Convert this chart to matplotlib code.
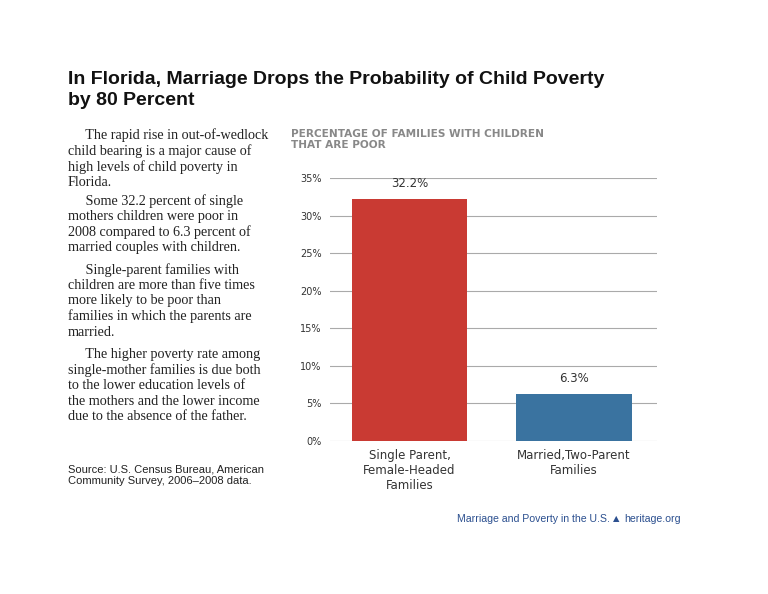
import matplotlib.pyplot as plt

categories = ["Single Parent,\nFemale-Headed\nFamilies", "Married,Two-Parent\nFamilies"]
values = [32.2, 6.3]
value_labels = ["32.2%", "6.3%"]
colors = ["#c93a33", "#3a73a0"]
yticks = [0, 5, 10, 15, 20, 25, 30, 35]

fig = plt.figure(figsize=(7.68, 5.94), dpi=100)

fig.text(68 / 768, 1 - 90 / 594, "In Florida, Marriage Drops the Probability of Child Poverty\nby 80 Percent",
         fontsize=14, fontweight="bold", family="Liberation Sans", va="center",
         linespacing=1.3, color="#111111")

paras = [
    "     The rapid rise in out-of-wedlock\nchild bearing is a major cause of\nhigh levels of child poverty in\nFlorida.",
    "     Some 32.2 percent of single\nmothers children were poor in\n2008 compared to 6.3 percent of\nmarried couples with children.",
    "     Single-parent families with\nchildren are more than five times\nmore likely to be poor than\nfamilies in which the parents are\nmarried.",
    "     The higher poverty rate among\nsingle-mother families is due both\nto the lower education levels of\nthe mothers and the lower income\ndue to the absence of the father.",
]
para_y = [128, 194, 263, 348]
for p, y in zip(paras, para_y):
    fig.text(68 / 768, 1 - y / 594, p, fontsize=10.2, family="Liberation Serif",
             va="top", linespacing=1.22, color="#222222")

fig.text(68 / 768, 1 - 464 / 594, "Source: U.S. Census Bureau, American\nCommunity Survey, 2006–2008 data.",
         fontsize=8, family="Liberation Sans", va="top", color="#222222", linespacing=1.25)

fig.text(291 / 768, 1 - 129 / 594, "PERCENTAGE OF FAMILIES WITH CHILDREN\nTHAT ARE POOR",
         fontsize=7.6, fontweight="bold", va="top", color="#888888", linespacing=1.1)

ax = fig.add_axes([330 / 768, 1 - 441 / 594, 327 / 768, 263 / 594])
x = range(len(values))
ax.bar(x, values, width=0.7, color=colors, zorder=3)
for xi, v, lab in zip(x, values, value_labels):
    ax.text(xi, v + 1.2, lab, ha="center", va="bottom", fontsize=8.5, color="#333333")

ax.set_xlim(-0.483, 1.505)
ax.set_ylim(0, 35)
ax.set_yticks(yticks)
ax.set_yticklabels([f"{t}%" for t in yticks], fontsize=7, color="#333333")
ax.set_xticks(list(x))
ax.set_xticklabels(categories, fontsize=8.5, color="#333333", linespacing=1.2)
ax.grid(axis="y", color="#aaaaaa", linewidth=0.8, zorder=0)
ax.tick_params(length=0, pad=6)
for s in ax.spines.values():
    s.set_visible(False)

fig.text(457 / 768, 1 - 519 / 594, "Marriage and Poverty in the U.S.", fontsize=7.6,
         family="Liberation Sans", color="#2b4f8f", va="center")
fig.text(624 / 768, 1 - 519 / 594, "heritage.org", fontsize=7.6, family="Liberation Sans",
         color="#2b4f8f", va="center")
fig.text(616 / 768, 1 - 519 / 594, "\u25b2", fontsize=6, color="#2b4f8f", va="center", ha="center")

fig.savefig("out.png", dpi=100)
